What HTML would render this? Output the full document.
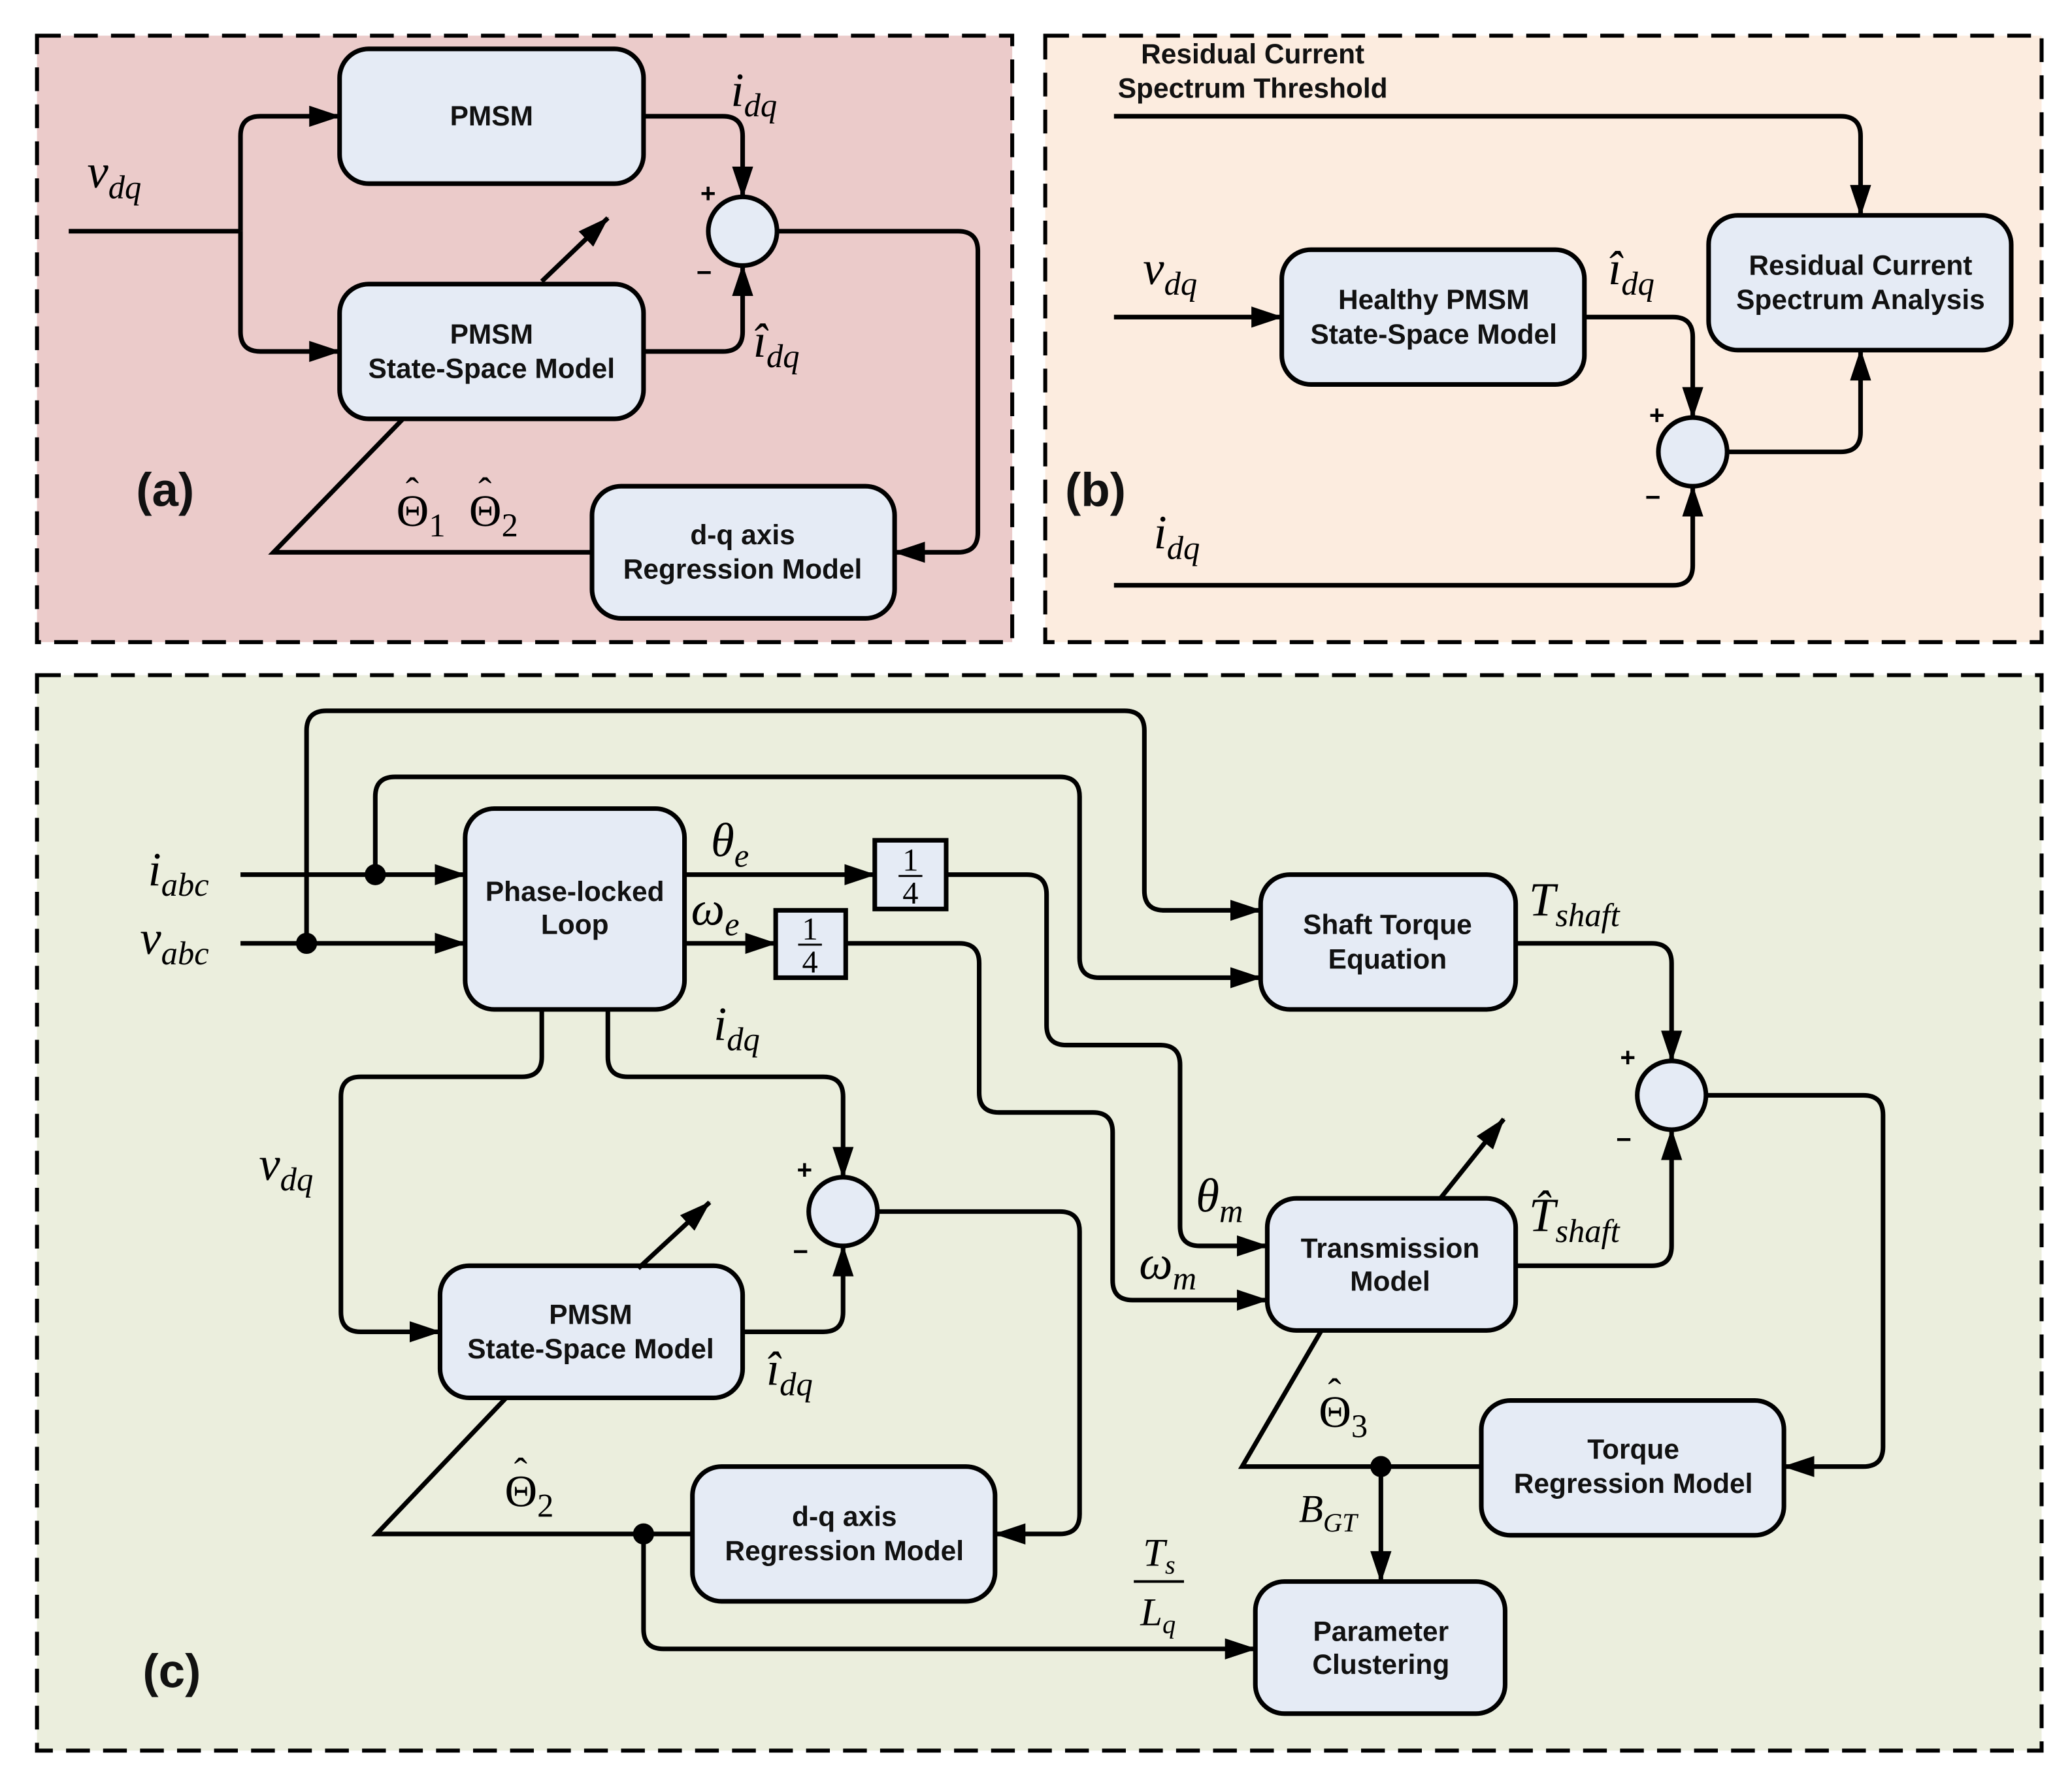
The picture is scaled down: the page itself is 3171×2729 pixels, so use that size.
<!DOCTYPE html>
<html><head><meta charset="utf-8"><style>
html,body{margin:0;padding:0;background:#fff}
svg{display:block}
.bx{fill:#e5ebf5;stroke:#000;stroke-width:3.5}
.ln{fill:none;stroke:#000;stroke-width:3.5}
.la{fill:none;stroke:#000;stroke-width:3.5;marker-end:url(#ah)}
.t{font-family:"Liberation Sans",sans-serif;font-weight:bold;font-size:21px;text-anchor:middle;fill:#111}
.m{font-family:"Liberation Serif",serif;font-style:italic;font-size:36px;fill:#000}
.u{font-family:"Liberation Serif",serif;font-size:34px;fill:#000}
.h{font-family:"Liberation Serif",serif;font-size:30px;fill:#000;text-anchor:middle}
.s{font-size:25px}
.pl{font-family:"Liberation Sans",sans-serif;font-weight:bold;font-size:20px;fill:#000}
.lab{font-family:"Liberation Sans",sans-serif;font-weight:bold;font-size:36px;fill:#111}
</style></head><body>
<svg width="3171" height="2729" viewBox="0 0 1568 1349.5" preserveAspectRatio="none" xmlns="http://www.w3.org/2000/svg">
<defs><marker id="ah" markerUnits="userSpaceOnUse" markerWidth="24" markerHeight="16" refX="23" refY="8" orient="auto"><path d="M0,0 L24,8 L0,16 z" fill="#000"/></marker></defs>
<rect width="1568" height="1349.5" fill="#fff"/>
<rect x="28" y="27" width="738" height="459" fill="#ebcbca" stroke="#000" stroke-width="3" stroke-dasharray="18 10"/>
<rect x="791" y="27" width="754" height="459" fill="#fcecdf" stroke="#000" stroke-width="3" stroke-dasharray="18 10"/>
<rect x="28" y="511" width="1517" height="814" fill="#ebeedd" stroke="#000" stroke-width="3" stroke-dasharray="18 10"/>

<!-- Panel a -->
<rect class="bx" x="257" y="37" width="230" height="102" rx="22"/>
<text class="t" x="372" y="95">PMSM</text>
<rect class="bx" x="257" y="215" width="230" height="102" rx="22"/>
<text class="t" x="372" y="260">PMSM</text><text class="t" x="372" y="286">State-Space Model</text>
<rect class="bx" x="448" y="368" width="229" height="100" rx="22"/>
<text class="t" x="562" y="412">d-q axis</text><text class="t" x="562" y="438">Regression Model</text>
<circle cx="562" cy="175" r="26" fill="#e5ebf5" stroke="#000" stroke-width="3.5"/>
<path class="ln" d="M52,175 H182"/>
<path class="la" d="M182,175 V103 Q182,88 197,88 H257"/>
<path class="la" d="M182,175 V251 Q182,266 197,266 H257"/>
<path class="la" d="M487,88 H547 Q562,88 562,103 V149"/>
<path class="la" d="M487,266 H547 Q562,266 562,251 V201"/>
<path class="la" d="M588,175 H725 Q740,175 740,190 V403 Q740,418 725,418 H677"/>
<path class="ln" d="M448,418 H207 L305,317"/>
<path class="la" d="M410,213 L460,165"/>
<text class="m" x="66" y="142">v<tspan class="s" dy="8">dq</tspan></text>
<text class="m" x="553" y="80">i<tspan class="s" dy="8">dq</tspan></text>
<text class="m" x="570" y="270">î<tspan class="s" dy="8">dq</tspan></text>
<text class="pl" x="530" y="153">+</text><text class="pl" x="527" y="213">−</text>
<text class="u" x="300" y="398">Θ<tspan class="s" dy="8">1</tspan></text><text class="h" x="312" y="382">ˆ</text>
<text class="u" x="355" y="398">Θ<tspan class="s" dy="8">2</tspan></text><text class="h" x="367" y="382">ˆ</text>
<text class="lab" x="103" y="383">(a)</text>

<!-- Panel b -->
<text class="t" x="948" y="48">Residual Current</text>
<text class="t" x="948" y="74">Spectrum Threshold</text>
<rect class="bx" x="1293" y="163" width="229" height="102" rx="22"/>
<text class="t" x="1408" y="208">Residual Current</text><text class="t" x="1408" y="234">Spectrum Analysis</text>
<rect class="bx" x="970" y="189" width="229" height="102" rx="22"/>
<text class="t" x="1085" y="234">Healthy PMSM</text><text class="t" x="1085" y="260">State-Space Model</text>
<circle cx="1281" cy="342" r="26" fill="#e5ebf5" stroke="#000" stroke-width="3.5"/>
<path class="la" d="M843,88 H1393 Q1408,88 1408,103 V163"/>
<path class="la" d="M843,240 H970"/>
<path class="la" d="M1199,240 H1266 Q1281,240 1281,255 V316"/>
<path class="la" d="M1307,342 H1393 Q1408,342 1408,327 V265"/>
<path class="la" d="M843,443 H1266 Q1281,443 1281,428 V368"/>
<text class="m" x="865" y="215">v<tspan class="s" dy="8">dq</tspan></text>
<text class="m" x="1217" y="215">î<tspan class="s" dy="8">dq</tspan></text>
<text class="m" x="873" y="415">i<tspan class="s" dy="8">dq</tspan></text>
<text class="pl" x="1248" y="321">+</text><text class="pl" x="1245" y="383">−</text>
<text class="lab" x="806" y="383">(b)</text>

<!-- Panel c -->
<rect class="bx" x="352" y="612" width="166" height="152" rx="22"/>
<text class="t" x="435" y="682">Phase-locked</text><text class="t" x="435" y="707">Loop</text>
<rect class="bx" x="662" y="636" width="54" height="52"/>
<text style="font-family:'Liberation Serif',serif;font-size:24px;text-anchor:middle" x="689" y="659">1</text>
<line x1="680" y1="663" x2="698" y2="663" stroke="#000" stroke-width="1.5"/>
<text style="font-family:'Liberation Serif',serif;font-size:24px;text-anchor:middle" x="689" y="684">4</text>
<rect class="bx" x="587" y="689" width="53" height="51"/>
<text style="font-family:'Liberation Serif',serif;font-size:24px;text-anchor:middle" x="613" y="711">1</text>
<line x1="604" y1="715" x2="622" y2="715" stroke="#000" stroke-width="1.5"/>
<text style="font-family:'Liberation Serif',serif;font-size:24px;text-anchor:middle" x="613" y="736">4</text>
<rect class="bx" x="954" y="662" width="193" height="102" rx="22"/>
<text class="t" x="1050" y="707">Shaft Torque</text><text class="t" x="1050" y="733">Equation</text>
<rect class="bx" x="959" y="907" width="188" height="100" rx="22"/>
<text class="t" x="1052" y="952">Transmission</text><text class="t" x="1052" y="977">Model</text>
<rect class="bx" x="333" y="958" width="229" height="100" rx="22"/>
<text class="t" x="447" y="1002">PMSM</text><text class="t" x="447" y="1028">State-Space Model</text>
<rect class="bx" x="524" y="1110" width="229" height="102" rx="22"/>
<text class="t" x="639" y="1155">d-q axis</text><text class="t" x="639" y="1181">Regression Model</text>
<rect class="bx" x="1121" y="1060" width="229" height="102" rx="22"/>
<text class="t" x="1236" y="1104">Torque</text><text class="t" x="1236" y="1130">Regression Model</text>
<rect class="bx" x="950" y="1197" width="189" height="100" rx="22"/>
<text class="t" x="1045" y="1242">Parameter</text><text class="t" x="1045" y="1267">Clustering</text>
<circle cx="1265" cy="829" r="26" fill="#e5ebf5" stroke="#000" stroke-width="3.5"/>
<circle cx="638" cy="917" r="26" fill="#e5ebf5" stroke="#000" stroke-width="3.5"/>

<path class="la" d="M182,662 H352"/>
<path class="la" d="M182,714 H352"/>
<path class="la" d="M284,662 V603 Q284,588 299,588 H802 Q817,588 817,603 V725 Q817,740 832,740 H954"/>
<path class="la" d="M232,714 V553 Q232,538 247,538 H851 Q866,538 866,553 V674 Q866,689 881,689 H954"/>
<path class="la" d="M518,662 H662"/>
<path class="la" d="M518,714 H587"/>
<path class="la" d="M716,662 H777 Q792,662 792,677 V776 Q792,791 807,791 H878 Q893,791 893,806 V928 Q893,943 908,943 H959"/>
<path class="la" d="M640,714 H726 Q741,714 741,729 V827 Q741,842 756,842 H827 Q842,842 842,857 V969 Q842,984 857,984 H959"/>
<path class="la" d="M410,764 V800 Q410,815 395,815 H273 Q258,815 258,830 V993 Q258,1008 273,1008 H333"/>
<path class="la" d="M460,764 V800 Q460,815 475,815 H623 Q638,815 638,830 V891"/>
<path class="la" d="M562,1008 H623 Q638,1008 638,993 V943"/>
<path class="la" d="M664,917 H802 Q817,917 817,932 V1146 Q817,1161 802,1161 H753"/>
<path class="ln" d="M524,1161 H285 L383,1058"/>
<path class="la" d="M487,1161 V1233 Q487,1248 502,1248 H950"/>
<path class="la" d="M483,960 L537,910"/>
<path class="la" d="M1147,714 H1250 Q1265,714 1265,729 V803"/>
<path class="la" d="M1147,958 H1250 Q1265,958 1265,943 V855"/>
<path class="la" d="M1291,829 H1410 Q1425,829 1425,844 V1095 Q1425,1110 1410,1110 H1350"/>
<path class="ln" d="M1121,1110 H940 L1000,1007"/>
<path class="la" d="M1045,1110 V1197"/>
<path class="la" d="M1090,907 L1138,847"/>
<circle cx="284" cy="662" r="8"/><circle cx="232" cy="714" r="8"/>
<circle cx="487" cy="1161" r="8"/><circle cx="1045" cy="1110" r="8"/>

<text class="m" x="112" y="670">i<tspan class="s" dy="8">abc</tspan></text>
<text class="m" x="106" y="722">v<tspan class="s" dy="8">abc</tspan></text>
<text class="m" x="538" y="648">θ<tspan class="s" dy="8">e</tspan></text>
<text class="m" x="523" y="700">ω<tspan class="s" dy="8">e</tspan></text>
<text class="m" x="540" y="787">i<tspan class="s" dy="8">dq</tspan></text>
<text class="m" x="196" y="893">v<tspan class="s" dy="8">dq</tspan></text>
<text class="m" x="580" y="1048">î<tspan class="s" dy="8">dq</tspan></text>
<text class="m" x="905" y="917">θ<tspan class="s" dy="8">m</tspan></text>
<text class="m" x="862" y="968">ω<tspan class="s" dy="8">m</tspan></text>
<text class="m" x="1157" y="693">T<tspan class="s" dy="8">shaft</tspan></text>
<text class="m" x="1157" y="932">T̂<tspan class="s" dy="8">shaft</tspan></text>
<text class="u" x="998" y="1080">Θ<tspan class="s" dy="8">3</tspan></text><text class="h" x="1010" y="1064">ˆ</text>
<text class="u" x="382" y="1140">Θ<tspan class="s" dy="8">2</tspan></text><text class="h" x="394" y="1124">ˆ</text>
<text class="m" x="983" y="1152" style="font-size:30px">B<tspan class="s" dy="7" style="font-size:20px">GT</tspan></text>
<text class="m" x="865" y="1185" style="font-size:30px">T<tspan class="s" dy="6" style="font-size:20px">s</tspan></text>
<line x1="858" y1="1197" x2="896" y2="1197" stroke="#000" stroke-width="2"/>
<text class="m" x="863" y="1230" style="font-size:30px">L<tspan class="s" dy="6" style="font-size:20px">q</tspan></text>
<text class="pl" x="1226" y="807">+</text><text class="pl" x="1223" y="869">−</text>
<text class="pl" x="603" y="892">+</text><text class="pl" x="600" y="954">−</text>
<text class="lab" x="108" y="1277">(c)</text>
</svg>
</body></html>
